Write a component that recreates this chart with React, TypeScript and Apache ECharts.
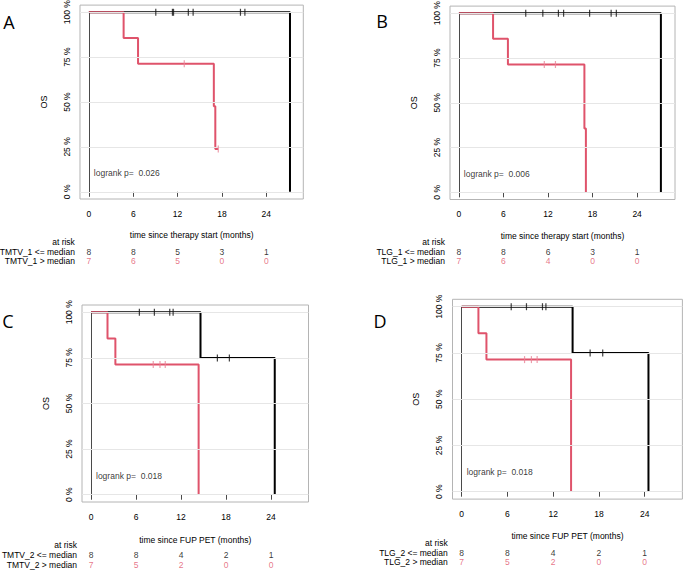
import React, { useEffect, useRef } from "react";
import * as echarts from "echarts";

// ---- shared tick values ----
const xTicks = [0, 6, 12, 18, 24];
const yTicks = [0, 25, 50, 75, 100];

// ---- A: TMTV_1, time since therapy start ----
const aLowTimes = [0, 27.2];
const aLowSurv = [100, 0];
const aLowCensorT = [9.05, 11.3, 11.45, 13.45, 14.1, 20.5, 21.1];
const aLowCensorS = [100, 100, 100, 100, 100, 100, 100];
const aHighTimes = [0, 4.7, 6.65, 16.9, 17.1, 17.5];
const aHighSurv = [100, 85.7, 71.4, 47.6, 23.8, 23.8];
const aHighCensorT = [12.9, 17.5];
const aHighCensorS = [71.4, 23.8];
const aRiskLow = [8, 8, 5, 3, 1];
const aRiskHigh = [7, 6, 5, 0, 0];
const aRows = ["TMTV_1 <= median", "TMTV_1 > median"];
const aP = "0.026";

// ---- B: TLG_1, time since therapy start ----
const bLowTimes = [0, 27.2];
const bLowSurv = [100, 0];
const bLowCensorT = [9.0, 11.3, 13.4, 14.1, 17.6, 20.5, 21.2];
const bLowCensorS = [100, 100, 100, 100, 100, 100, 100];
const bHighTimes = [0, 4.6, 6.6, 16.9, 17.1];
const bHighSurv = [100, 85.7, 71.4, 35.7, 0];
const bHighCensorT = [11.5, 13.0];
const bHighCensorS = [71.4, 71.4];
const bRiskLow = [8, 8, 6, 3, 1];
const bRiskHigh = [7, 6, 4, 0, 0];
const bRows = ["TLG_1 <= median", "TLG_1 > median"];
const bP = "0.006";

// ---- C: TMTV_2, time since FUP PET ----
const cLowTimes = [0, 14.6, 24.5];
const cLowSurv = [100, 75, 0];
const cLowCensorT = [6.45, 8.45, 10.5, 10.95, 16.85, 18.45];
const cLowCensorS = [100, 100, 100, 100, 75, 75];
const cHighTimes = [0, 2.2, 3.25, 14.35];
const cHighSurv = [100, 85.7, 71.4, 0];
const cHighCensorT = [8.3, 9.2, 9.9];
const cHighCensorS = [71.4, 71.4, 71.4];
const cRiskLow = [8, 8, 4, 2, 1];
const cRiskHigh = [7, 5, 2, 0, 0];
const cRows = ["TMTV_2 <= median", "TMTV_2 > median"];
const cP = "0.018";

// ---- D: TLG_2, time since FUP PET ----
const dLowTimes = [0, 14.55, 24.5];
const dLowSurv = [100, 75, 0];
const dLowCensorT = [6.5, 8.5, 10.6, 11.05, 16.85, 18.5];
const dLowCensorS = [100, 100, 100, 100, 75, 75];
const dHighTimes = [0, 2.2, 3.25, 14.35];
const dHighSurv = [100, 85.7, 71.4, 0];
const dHighCensorT = [8.25, 9.15, 9.9];
const dHighCensorS = [71.4, 71.4, 71.4];
const dRiskLow = [8, 8, 4, 2, 1];
const dRiskHigh = [7, 5, 2, 0, 0];
const dRows = ["TLG_2 <= median", "TLG_2 > median"];
const dP = "0.018";

const titleTherapy = "time since therapy start (months)";
const titleFup = "time since FUP PET (months)";

// ---- styling ----
const RED = "#DF536B";
const RED_TICK = "#E88597";
const BLACK = "#000000";
const FRAME = "#b4b4b4";
const AXIS = "#4a4a4a";
const GRIDLINE = "#e6e6e6";
const FONT = "'Liberation Sans', Arial, Helvetica, sans-serif";
const FS = 8.5;
const X_MIN = -1.2;
const Y_MIN = -4;
const Y_MAX = 104;
const ROW_H = 9.8;
const P_X = 0.6;
const P_Y = 10.4;

const zip = (a: number[], b: number[]) => a.map((v, i) => [v, b[i]]);

const panels = [
  {
    letter: "A", letterX: 9, letterY: 22,
    box: { left: 80, right: 303.3, top: 5.1, bottom: 199 }, xMax: 29.0,
    title: titleTherapy, titleGap: 31.5, riskY: 241.8,
    low: zip(aLowTimes, aLowSurv), high: zip(aHighTimes, aHighSurv),
    lowCensor: zip(aLowCensorT, aLowCensorS), highCensor: zip(aHighCensorT, aHighCensorS),
    riskLow: aRiskLow, riskHigh: aRiskHigh, rows: aRows, p: aP,
  },
  {
    letter: "B", letterX: 382, letterY: 21,
    box: { left: 450, right: 675, top: 6.1, bottom: 199.5 }, xMax: 29.1,
    title: titleTherapy, titleGap: 31.5, riskY: 241.8,
    low: zip(bLowTimes, bLowSurv), high: zip(bHighTimes, bHighSurv),
    lowCensor: zip(bLowCensorT, bLowCensorS), highCensor: zip(bHighCensorT, bHighCensorS),
    riskLow: bRiskLow, riskHigh: bRiskHigh, rows: bRows, p: bP,
  },
  {
    letter: "C", letterX: 8, letterY: 321,
    box: { left: 82, right: 308.5, top: 305, bottom: 502 }, xMax: 29.0,
    title: titleFup, titleGap: 33, riskY: 545,
    low: zip(cLowTimes, cLowSurv), high: zip(cHighTimes, cHighSurv),
    lowCensor: zip(cLowCensorT, cLowCensorS), highCensor: zip(cHighCensorT, cHighCensorS),
    riskLow: cRiskLow, riskHigh: cRiskHigh, rows: cRows, p: cP,
  },
  {
    letter: "D", letterX: 380, letterY: 321,
    box: { left: 452.5, right: 682.4, top: 299.3, bottom: 499.1 }, xMax: 28.95,
    title: titleFup, titleGap: 32.5, riskY: 542.8,
    low: zip(dLowTimes, dLowSurv), high: zip(dHighTimes, dHighSurv),
    lowCensor: zip(dLowCensorT, dLowCensorS), highCensor: zip(dHighCensorT, dHighCensorS),
    riskLow: dRiskLow, riskHigh: dRiskHigh, rows: dRows, p: dP,
  },
];

function buildOption() {
  const grid: any[] = [];
  const xAxis: any[] = [];
  const yAxis: any[] = [];
  const series: any[] = [];
  const graphic: any[] = [];
  const txt = { fontSize: FS, color: "#000", fontFamily: FONT };

  panels.forEach((p, i) => {
    const g = i * 3;
    const w = p.box.right - p.box.left;
    const h = p.box.bottom - p.box.top;
    // pixel position of the 0..24 month / 0..100 % span inside the frame
    const px = (t: number) => p.box.left + ((t - X_MIN) / (p.xMax - X_MIN)) * w;
    const py = (v: number) => p.box.top + ((Y_MAX - v) / (Y_MAX - Y_MIN)) * h;
    const x0 = px(0), x24 = px(24), y100 = py(100), y0 = py(0);

    // frame with curves
    grid.push({ left: p.box.left, top: p.box.top, width: w, height: h, show: true, borderColor: FRAME, borderWidth: 1, backgroundColor: "transparent", outerBoundsMode: "none" });
    // axes spanning the tick range only
    grid.push({ left: x0, top: y100, width: x24 - x0, height: y0 - y100, outerBoundsMode: "none" });
    // numbers-at-risk table
    grid.push({ left: x0, top: p.riskY - ROW_H / 2, width: x24 - x0, height: ROW_H * 3, outerBoundsMode: "none" });

    xAxis.push({
      gridIndex: g, type: "value", min: X_MIN, max: p.xMax,
      axisLine: { show: false }, axisTick: { show: false }, axisLabel: { show: false }, splitLine: { show: false },
      name: p.title, nameLocation: "middle", nameGap: p.titleGap, nameTextStyle: txt,
    });
    yAxis.push({
      gridIndex: g, type: "value", min: Y_MIN, max: Y_MAX,
      axisLine: { show: false }, axisTick: { show: false }, axisLabel: { show: false }, splitLine: { show: false },
      name: "OS", nameLocation: "middle", nameGap: 32, nameRotate: 90, nameTextStyle: { ...txt, fontSize: 9 },
    });

    xAxis.push({
      gridIndex: g + 1, type: "value", min: xTicks[0], max: xTicks[xTicks.length - 1], interval: 6,
      offset: p.box.bottom - y0,
      axisLine: { show: true, lineStyle: { color: AXIS, width: 1 } },
      axisTick: { show: true, length: 5, lineStyle: { color: AXIS, width: 1 } },
      axisLabel: { ...txt, margin: 10 },
      splitLine: { show: false },
    });
    yAxis.push({
      gridIndex: g + 1, type: "value", min: yTicks[0], max: yTicks[yTicks.length - 1], interval: 25,
      offset: x0 - p.box.left,
      axisLine: { show: true, lineStyle: { color: AXIS, width: 1 } },
      axisTick: { show: true, length: 5, lineStyle: { color: AXIS, width: 1 } },
      axisLabel: { ...txt, rotate: 90, margin: 9, formatter: "{value} %" },
      splitLine: { show: false },
    });

    xAxis.push({ gridIndex: g + 2, type: "value", min: 0, max: 24, show: false });
    yAxis.push({
      gridIndex: g + 2, type: "category", inverse: true,
      data: ["at risk", p.rows[0], p.rows[1]],
      axisLine: { show: false }, axisTick: { show: false }, splitLine: { show: false },
      axisLabel: { ...txt, margin: 14, interval: 0 },
    });

    // horizontal reference lines across the frame
    series.push({
      type: "line", xAxisIndex: g, yAxisIndex: g, data: [], z: 1, silent: true,
      markLine: {
        silent: true, symbol: ["none", "none"], label: { show: false }, animation: false,
        lineStyle: { color: GRIDLINE, width: 1, type: "solid" },
        data: yTicks.map((v) => ({ yAxis: v })),
      },
    });

    series.push({
      type: "line", step: "end", xAxisIndex: g, yAxisIndex: g, data: p.low, showSymbol: false, z: 3,
      lineStyle: { color: BLACK, width: 2 }, itemStyle: { color: BLACK },
    });
    series.push({
      type: "line", step: "end", xAxisIndex: g, yAxisIndex: g, data: p.high, showSymbol: false, z: 4,
      lineStyle: { color: RED, width: 2 }, itemStyle: { color: RED },
    });
    series.push({
      type: "scatter", xAxisIndex: g, yAxisIndex: g, data: p.lowCensor, z: 5,
      symbol: "rect", symbolSize: [1.2, 7], itemStyle: { color: "#111" },
    });
    series.push({
      type: "scatter", xAxisIndex: g, yAxisIndex: g, data: p.highCensor, z: 6,
      symbol: "rect", symbolSize: [1.2, 7], itemStyle: { color: RED_TICK },
    });
    series.push({
      type: "scatter", xAxisIndex: g, yAxisIndex: g, data: [[P_X, P_Y]], z: 6,
      symbolSize: 1, itemStyle: { color: "transparent" },
      label: { show: true, position: "right", distance: 0, formatter: `logrank p=  ${p.p}`, ...txt },
    });

    series.push({
      type: "scatter", xAxisIndex: g + 2, yAxisIndex: g + 2,
      data: xTicks.map((t, k) => [t, 1, p.riskLow[k]]),
      symbolSize: 1, itemStyle: { color: "transparent" },
      label: { show: true, position: "inside", formatter: (d: any) => String(d.value[2]), ...txt },
    });
    series.push({
      type: "scatter", xAxisIndex: g + 2, yAxisIndex: g + 2,
      data: xTicks.map((t, k) => [t, 2, p.riskHigh[k]]),
      symbolSize: 1, itemStyle: { color: "transparent" },
      label: { show: true, position: "inside", formatter: (d: any) => String(d.value[2]), ...txt, color: RED },
    });

    graphic.push({
      type: "text", x: p.letterX, y: p.letterY,
      style: { text: p.letter, fontSize: 18, fontFamily: "'Open Sans', 'Liberation Sans', sans-serif", fill: "#000", align: "center", verticalAlign: "middle" },
    });
  });

  return {
    animation: false,
    backgroundColor: "#ffffff",
    textStyle: { fontFamily: FONT },
    grid, xAxis, yAxis, series, graphic,
  };
}

export default function App() {
  const ref = useRef<HTMLDivElement | null>(null);
  useEffect(() => {
    if (!ref.current) return;
    const chart = echarts.init(ref.current, undefined, { renderer: "svg" });
    chart.setOption(buildOption() as any);
    return () => chart.dispose();
  }, []);
  return <div ref={ref} style={{ position: "absolute", left: 0, top: 0, width: 685, height: 571 }} />;
}
